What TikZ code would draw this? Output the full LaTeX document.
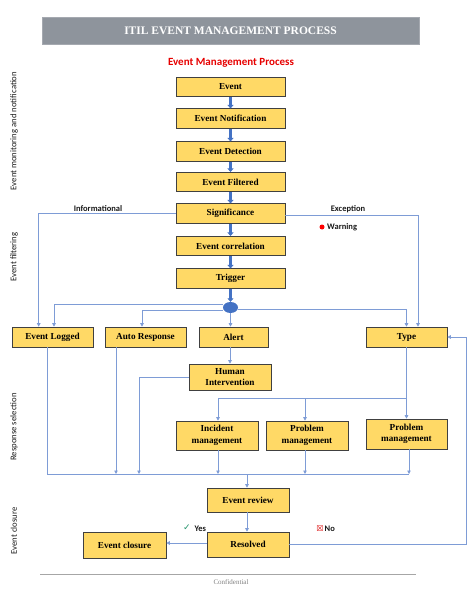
\documentclass[tikz,border=0pt]{standalone}
\usepackage{fontspec}
\setmainfont{Liberation Serif}
\newfontfamily\carl{Carlito}
\newfontfamily\dejavu{DejaVu Sans}
\usetikzlibrary{arrows.meta,shapes.geometric,calc}
\definecolor{boxfill}{HTML}{FFD966}
\definecolor{boxline}{HTML}{404040}
\definecolor{thick}{HTML}{4472C4}
\definecolor{thin}{HTML}{7E9CD6}
\definecolor{titlegray}{HTML}{8E949C}
\tikzset{
  box/.style={draw=boxline, line width=0.6pt, fill=boxfill, inner sep=1pt,
    font=\bfseries\fontsize{9.2}{9.5}\selectfont, align=center},
  bigarrow/.style={draw=thick, line width=2.6pt, -{Triangle[length=3.5pt,width=6pt]}},
  conn/.style={draw=thin, line width=0.8pt},
  arr/.style={conn, -{Triangle[length=3.5pt,width=3.5pt]}},
  side/.style={rotate=90, font=\carl\fontsize{8.7}{9}\selectfont, text=black!90},
  lab/.style={font=\carl\bfseries\fontsize{8.5}{9}\selectfont, text=black!90, inner sep=0pt}
}
\begin{document}
\begin{tikzpicture}[x=1pt,y=-1pt]
\useasboundingbox (0,0) rectangle (474,599);
% title
\node[draw=titlegray!80, fill=titlegray, minimum width=377pt, minimum height=27pt, inner sep=0pt,
  text=white, font=\bfseries\fontsize{11.5}{12}\selectfont] (title) at (230.5,30.5) {ITIL EVENT MANAGEMENT PROCESS};
\node[text={rgb,255:red,230;green,0;blue,0}, font=\carl\bfseries\fontsize{11}{12}\selectfont] (sub) at (231,63) {Event Management Process};
% side labels
\node[side] (s1) at (14,131) {Event monitoring and notification};
\node[side] (s2) at (14,257) {Event filtering};
\node[side] (s3) at (14,427) {Response selection};
\node[side] (s4) at (14,531) {Event closure};
% main column
\node[box, minimum width=109pt, minimum height=19.5pt] (ev) at (230.5,87) {Event};
\node[box, minimum width=109pt, minimum height=19.5pt] (en) at (230.5,118.5) {Event Notification};
\node[box, minimum width=109pt, minimum height=19.5pt] (ed) at (230.5,151.5) {Event Detection};
\node[box, minimum width=109pt, minimum height=19.5pt] (ef) at (230.5,182) {Event Filtered};
\node[box, minimum width=109pt, minimum height=19.5pt] (sig) at (230.5,213.5) {Significance};
\node[box, minimum width=109pt, minimum height=19.5pt] (ec) at (230.5,246) {Event correlation};
\node[box, minimum width=109pt, minimum height=19.5pt] (tr) at (230.5,278.5) {Trigger};
\node[ellipse, fill=thick, minimum width=15pt, minimum height=11pt, inner sep=0pt] (circ) at (230.5,307.5) {};
\draw[bigarrow] (ev) -- (en);
\draw[bigarrow] (en) -- (ed);
\draw[bigarrow] (ed) -- (ef);
\draw[bigarrow] (ef) -- (sig);
\draw[bigarrow] (sig) -- (ec);
\draw[bigarrow] (ec) -- (tr);
\draw[bigarrow] (tr) -- (circ);
% row
\node[box, minimum width=81pt, minimum height=20pt] (el) at (52.5,337) {Event Logged};
\node[box, minimum width=81pt, minimum height=20pt] (ar) at (145.5,337) {Auto Response};
\node[box, minimum width=69pt, minimum height=20pt] (al) at (233.5,337) {Alert};
\node[box, minimum width=81pt, minimum height=20pt] (ty) at (406.5,337) {Type};
\node[box, minimum width=82pt, minimum height=26pt, font=\bfseries\fontsize{9.2}{10.5}\selectfont] (hi) at (230,377) {Human\\Intervention};
\node[box, minimum width=82pt, minimum height=29pt, font=\bfseries\fontsize{9.2}{11.5}\selectfont] (im) at (217,435.5) {Incident\\management};
\node[box, minimum width=82pt, minimum height=29pt, font=\bfseries\fontsize{9.2}{11.5}\selectfont] (pm) at (307,435.5) {Problem\\management};
\node[box, minimum width=81pt, minimum height=30pt, font=\bfseries\fontsize{9.2}{11.5}\selectfont] (pm2) at (406.5,434) {Problem\\management};
\node[box, minimum width=82pt, minimum height=24pt] (er) at (248,500) {Event review};
\node[box, minimum width=82pt, minimum height=25pt] (res) at (248,544.5) {Resolved};
\node[box, minimum width=83pt, minimum height=26pt] (ecl) at (124.5,545) {Event closure};
% labels
\node[lab] (linfo) at (98,209) {Informational};
\node[lab] (lexc) at (348,209) {Exception};
\node[circle, fill=red, minimum size=5pt, inner sep=0pt] (dot) at (322,227) {};
\node[lab, anchor=west] (lwarn) at (327,227.5) {Warning};
\node[font=\dejavu\fontsize{9}{9}\selectfont, text={rgb,255:red,40;green,150;blue,110}, inner sep=0pt] (chk) at (187,528) {✓};
\node[lab, anchor=west] (lyes) at (194.5,529) {Yes};
\node[font=\dejavu\fontsize{8}{8}\selectfont, text=red!85!black, inner sep=0pt] (xbox) at (320,529) {☒};
\node[lab, anchor=west] (lno) at (324.5,529) {No};
% coordinates
\coordinate (tb) at (406.5,398);
\coordinate (cl) at (47,474);
\coordinate (cr) at (409,474);
\coordinate (hic) at (139,474);
\coordinate (rr) at (466,544.5);
% connectors
\draw[arr] (sig.west) -| ([xshift=27pt]el.north west);
\draw[arr] ([yshift=3.5pt]circ.west) -| ([xshift=1.5pt]el.north);
\draw[arr] ([yshift=-2.5pt]circ.west) -| ([xshift=-3.5pt]ar.north);
\draw[arr] (circ.south) -- (circ.south |- al.north);
\draw[arr] ([yshift=-1.5pt]circ.east) -| (ty.north);
\draw[arr] ([yshift=-1.5pt]sig.east) -| ([xshift=11.5pt]ty.north);
\draw[arr] (hi.north |- al.south) -- (hi.north);
\draw[arr] (ty.south) -- (pm2.north);
\draw[arr] (tb) -| ([xshift=1pt]im.north);
\draw[arr] ([xshift=-2pt]pm.north |- tb) -- ([xshift=-2pt]pm.north);
\draw[conn] (el.south -| cl) -- (cl) -- (cr);
\draw[arr] ([xshift=-29.5pt]ar.south) -- ([xshift=-29.5pt]ar.south |- cl);
\draw[arr] (hi.west) -| (hic);
\draw[arr] ([xshift=1pt]im.south) -- ([xshift=1pt]im.south |- cl);
\draw[arr] ([xshift=-2pt]pm.south) -- ([xshift=-2pt]pm.south |- cl);
\draw[arr] ([xshift=2.5pt]pm2.south) -- (cr);
\draw[arr] ([xshift=-1pt]er.north |- cl) -- ([xshift=-1pt]er.north);
\draw[arr] ([xshift=-1pt]er.south) -- ([xshift=-1pt]res.north);
\draw[arr] ([yshift=1.5pt]res.west) -- ([yshift=1.5pt]res.west -| ecl.east);
\draw[arr] (res.east) -- (rr) |- (ty.east);
% footer
\coordinate (fl) at (40,574);
\coordinate (fr) at (416,574);
\draw[draw=black!35, line width=0.6pt] (fl) -- (fr);
\node[text=black!50, font=\fontsize{7}{8}\selectfont] (conf) at (231,582) {Confidential};
\end{tikzpicture}
\end{document}
